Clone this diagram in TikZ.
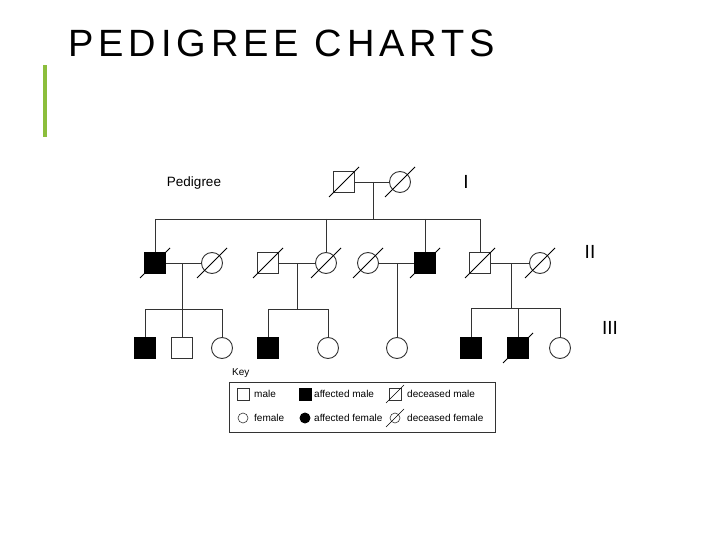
\documentclass[tikz,border=0pt]{standalone}
\usepackage{fontspec}
\setmainfont{Liberation Sans}
\definecolor{bar}{RGB}{140,190,60}
\begin{document}
\begin{tikzpicture}[x=1pt,y=-1pt,
  ln/.style={draw=black!80,line width=0.9pt},
  ml/.style={rectangle,draw=black!80,line width=0.9pt,minimum size=21pt,inner sep=0pt},
  fl/.style={circle,draw=black!80,line width=0.9pt,minimum size=21pt,inner sep=0pt},
  aff/.style={fill=black,draw=black},
  lbl/.style={font=\fontsize{19}{20}\selectfont,inner sep=0pt},
  ktxt/.style={font=\fontsize{10}{11}\selectfont,anchor=west,inner sep=0pt}]
\useasboundingbox (0,0) rectangle (720,540);
\node[anchor=west,inner sep=0pt,font=\fontsize{38}{40}\selectfont\addfontfeature{LetterSpace=13}] (title) at (68,43) {PEDIGREE CHARTS};
\fill[bar] (43,65) rectangle (46.5,137);
\node[inner sep=0pt,font=\fontsize{13.5}{14}\selectfont] (ped) at (194,183) {Pedigree};
\node[lbl] (r1) at (466,182) {I};
\node[lbl] (r2) at (590,252) {II};
\node[lbl] (r3) at (610,328) {III};
% gen I
\node[ml] (a) at (344,182) {};
\node[fl] (b) at (400,182) {};
% gen II
\node[ml,aff] (c) at (155,263) {};
\node[fl] (d) at (212,263) {};
\node[ml] (e) at (268,263) {};
\node[fl] (f) at (326,263) {};
\node[fl] (g) at (368,263) {};
\node[ml,aff] (h) at (425,263) {};
\node[ml] (i) at (480,263) {};
\node[fl] (j) at (540,263) {};
% gen III
\node[ml,aff] (k) at (145,348) {};
\node[ml] (l) at (182,348) {};
\node[fl] (m) at (222,348) {};
\node[ml,aff] (n) at (268,348) {};
\node[fl] (o) at (328,348) {};
\node[fl] (p) at (397,348) {};
\node[ml,aff] (q) at (471,348) {};
\node[ml,aff] (r) at (518,348) {};
\node[fl] (s) at (560,348) {};
% deceased slashes
\foreach \n in {a,b,c,d,e,f,g,h,i,j,r}
  \draw[black,line width=0.8pt] ([shift={(-15,15)}]\n.center) -- ([shift={(15,-15)}]\n.center);
% couples
\coordinate (ab) at (373,182); \coordinate (sI) at (373,219);
\draw[ln] (a) -- (b); \draw[ln] (ab) -- (sI);
\coordinate (sl) at (155,219); \coordinate (sr) at (480,219);
\draw[ln] (sl) -- (sr);
\foreach \n in {c,f,h,i} \draw[ln] (\n.north |- sl) -- (\n.north);
\draw[ln] (c) -- (d); \draw[ln] (e) -- (f); \draw[ln] (g) -- (h); \draw[ln] (i) -- (j);
% sibships gen III
\coordinate (cd) at (182,263); \coordinate (cdS) at (182,309);
\draw[ln] (cd) -- (cdS);
\draw[ln] (k.north) -- (k.north |- cdS) -- (m.north |- cdS) -- (m.north);
\draw[ln] (cdS) -- (l.north);
\coordinate (ef) at (297,263); \coordinate (efS) at (297,309);
\draw[ln] (ef) -- (efS);
\draw[ln] (n.north) -- (n.north |- efS) -- (o.north |- efS) -- (o.north);
\coordinate (gh) at (397,263);
\draw[ln] (gh) -- (p.north);
\coordinate (ij) at (511,263); \coordinate (ijS) at (511,308);
\draw[ln] (ij) -- (ijS);
\draw[ln] (q.north) -- (q.north |- ijS) -- (s.north |- ijS) -- (s.north);
\draw[ln] (r.north |- ijS) -- (r.north);
% key
\node[ktxt] (key) at (232,373) {Key};
\draw[black!80,line width=0.9pt] (229,382) rectangle (495,432);
\node[ml,minimum size=12pt,line width=0.6pt] (k1) at (243,394) {};
\node[ktxt] (k1t) at (254,394) {male};
\node[ml,aff,minimum size=12pt] (k2) at (305,394) {};
\node[ktxt] (k2t) at (314,394) {affected male};
\node[ml,minimum size=12pt,line width=0.6pt] (k3) at (395,394) {};
\draw[line width=0.6pt] (386,403) -- (404,385);
\node[ktxt] (k3t) at (407,394) {deceased male};
\node[fl,minimum size=10pt,line width=0.6pt] (k4) at (243,418) {};
\node[ktxt] (k4t) at (254,418) {female};
\node[fl,aff,minimum size=10pt] (k5) at (305,418) {};
\node[ktxt] (k5t) at (314,418) {affected female};
\node[fl,minimum size=10pt,line width=0.6pt] (k6) at (395,418) {};
\draw[line width=0.6pt] (386,427) -- (404,409);
\node[ktxt] (k6t) at (407,418) {deceased female};
\end{tikzpicture}
\end{document}
